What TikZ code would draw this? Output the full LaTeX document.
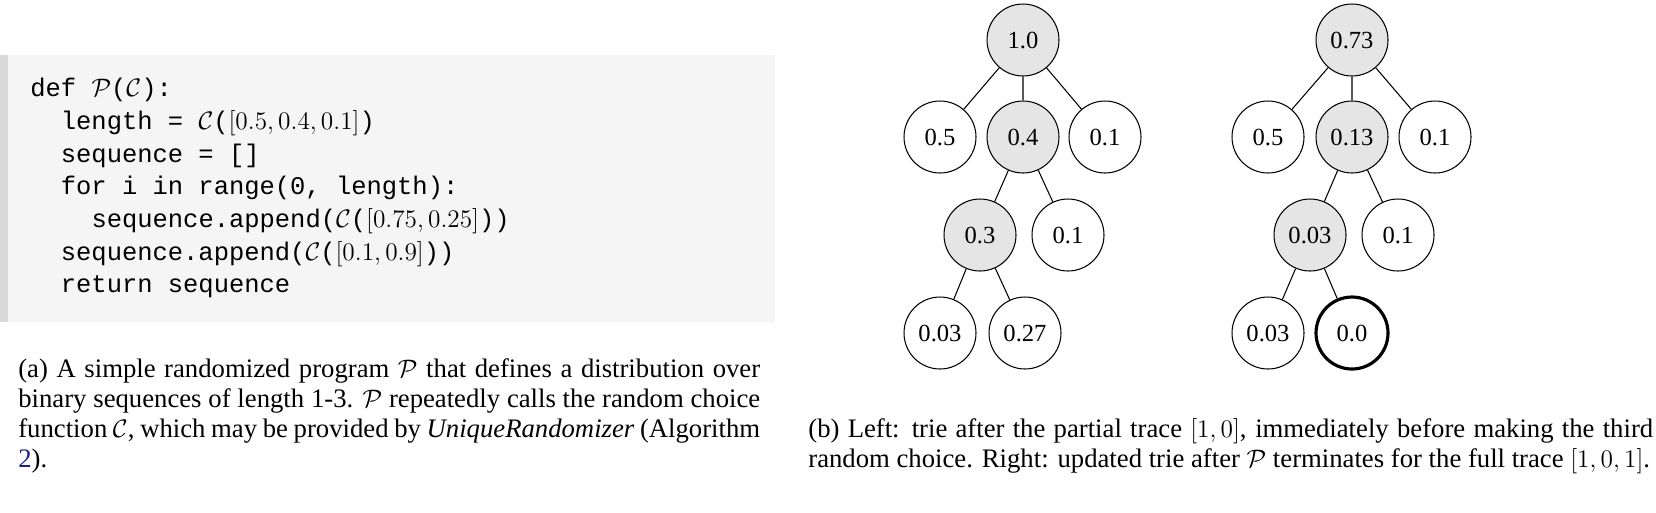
\documentclass[tikz,border=0pt]{standalone}
\usepackage{amsmath}
\usepackage{fontspec}
\setmainfont{Liberation Serif}
\setmonofont{Liberation Mono}
\usepackage{xcolor}
\definecolor{linkblue}{RGB}{30,30,140}
\begin{document}
\begin{tikzpicture}[x=0.02cm,y=-0.02cm,
  tn/.style={circle,draw,line width=0.6pt,minimum size=1.44cm,inner sep=0pt,font=\fontsize{14}{16}\selectfont},
  sel/.style={tn,fill=gray!20},
  fin/.style={tn,line width=1.8pt},
  edge/.style={line width=0.6pt},
  code/.style={anchor=west,inner sep=0pt,font=\ttfamily\fontsize{14.5}{17}\selectfont},
  captxt/.style={anchor=north west,inner sep=0pt,align=justify,font=\fontsize{15.2}{17.07}\selectfont}]
\clip (0,0) rectangle (1656,512);
\useasboundingbox (0,0) rectangle (1656,512);
\fill[gray!8] (0,55) rectangle (775,322);
\fill[gray!30] (0,55) rectangle (8,322);
\node[code] (c1) at (30,90) {def $\mathcal{P}$($\mathcal{C}$):};
\node[code] (c2) at (30,123) {\ \ length = $\mathcal{C}$($[0.5,0.4,0.1]$)};
\node[code] (c3) at (30,156) {\ \ sequence = []};
\node[code] (c4) at (30,188) {\ \ for i in range(0, length):};
\node[code] (c5) at (30,221) {\ \ \ \ sequence.append($\mathcal{C}$($[0.75,0.25]$))};
\node[code] (c6) at (30,254) {\ \ sequence.append($\mathcal{C}$($[0.1,0.9]$))};
\node[code] (c7) at (30,287) {\ \ return sequence};
\node[captxt,text width=14.84cm] (capa) at (18,358) {(a) A simple randomized program $\mathcal{P}$ that defines a distribution over binary sequences of length 1-3. $\mathcal{P}$ repeatedly calls the random choice function $\mathcal{C}$, which may be provided by \textit{UniqueRandomizer} (Algorithm {\color{linkblue}2}).};
\node[captxt,text width=16.9cm] (capb) at (808,418) {(b) Left: trie after the partial trace $[1,0]$, immediately before making the third random choice. Right: updated trie after $\mathcal{P}$ terminates for the full trace $[1,0,1]$.};
% left tree
\node[sel] (a0) at (1023,40) {1.0};
\node[tn] (a1) at (940,137) {0.5};
\node[sel] (a2) at (1023,137) {0.4};
\node[tn] (a3) at (1105,137) {0.1};
\node[sel] (a4) at (980,235) {0.3};
\node[tn] (a5) at (1068,235) {0.1};
\node[tn] (a6) at (940,333) {0.03};
\node[tn] (a7) at (1025,333) {0.27};
\draw[edge] (a0)--(a1) (a0)--(a2) (a0)--(a3) (a2)--(a4) (a2)--(a5) (a4)--(a6) (a4)--(a7);
% right tree
\node[sel] (b0) at (1352,40) {0.73};
\node[tn] (b1) at (1268,137) {0.5};
\node[sel] (b2) at (1352,137) {0.13};
\node[tn] (b3) at (1435,137) {0.1};
\node[sel] (b4) at (1310,235) {0.03};
\node[tn] (b5) at (1398,235) {0.1};
\node[tn] (b6) at (1268,333) {0.03};
\node[fin] (b7) at (1352,333) {0.0};
\draw[edge] (b0)--(b1) (b0)--(b2) (b0)--(b3) (b2)--(b4) (b2)--(b5) (b4)--(b6) (b4)--(b7);
\end{tikzpicture}
\end{document}
